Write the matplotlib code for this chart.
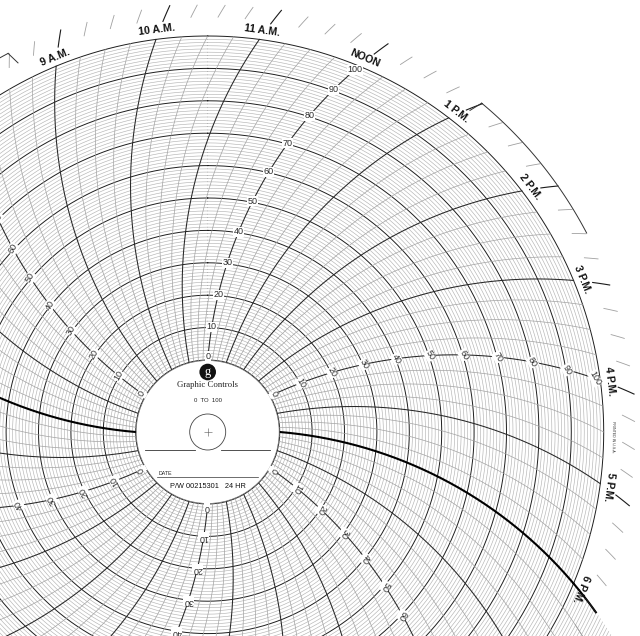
import numpy as np
import matplotlib
matplotlib.use("Agg")
import matplotlib.pyplot as plt
from matplotlib.patches import Circle

# ---------------- data ----------------
hour_names = ["MIDNIGHT", "1 A.M.", "2 A.M.", "3 A.M.", "4 A.M.", "5 A.M.",
              "6 A.M.", "7 A.M.", "8 A.M.", "9 A.M.", "10 A.M.", "11 A.M.",
              "NOON", "1 P.M.", "2 P.M.", "3 P.M.", "4 P.M.", "5 P.M.",
              "6 P.M.", "7 P.M.", "8 P.M.", "9 P.M.", "10 P.M.", "11 P.M."]
hours = list(range(24))
scale_min, scale_max = 0, 100
minor_step = 1          # ring every unit
major_step = 10         # darker ring every 10 units
value_labels = [0, 10, 20, 30, 40, 50, 60, 70, 80, 90, 100]
labelled_hours = [12, 16, 20, 0, 4, 8]   # time lines that carry the 0..100 numbers
divisions_per_hour = 4                   # 15-minute lines
heavy_hours = [6, 18]
chart_title = "Graphic Controls"
range_text = "0  TO  100"
part_text = "P/W 00215301   24 HR"

# ---------------- geometry / style ----------------
R0, R100 = 72.0, 396.0      # radius of 0 and 100 rings (pixels)
ARM2 = 864.0                # twice the pen-arm radius
LABEL_R = 405.0
DEG_PER_HOUR = 15.0


def rad(v):
    return R0 + (R100 - R0) * (v - scale_min) / (scale_max - scale_min)


def theta(r, start):
    return start + np.degrees(np.arccos(R0 / ARM2) - np.arccos(r / ARM2))


def xy(r, th):
    t = np.radians(th)
    return r * np.sin(t), r * np.cos(t)


def start_angle(hour_float):
    return (hour_float - 12) * DEG_PER_HOUR


fig = plt.figure(figsize=(6.4, 6.36), dpi=100)
ax = fig.add_axes([0, 0, 1, 1])
ax.set_xlim(-207.7, 432.3)
ax.set_ylim(-204, 432)
ax.set_aspect("equal")
ax.axis("off")

# rings
phi = np.linspace(0, 360, 1441)
for v in range(scale_min, scale_max + 1, minor_step):
    r = rad(v)
    x, y = xy(r, phi)
    if v % major_step == 0:
        ax.plot(x, y, color="#1e1e1e", lw=0.7, zorder=2)
    else:
        ax.plot(x, y, color="#b4b4b4", lw=0.45, zorder=1)

# extended grid beyond the 6 P.M. line
six_pm = start_angle(18)
for v in range(scale_max + 1, scale_max + 31, minor_step):
    r = rad(v)
    t0 = theta(r, six_pm)
    ph = np.linspace(t0, t0 + 30, 100)
    x, y = xy(r, ph)
    ax.plot(x, y, color="#b4b4b4", lw=0.45, zorder=1)

# time lines
rr = np.linspace(R0, R100, 300)
n_div = 24 * divisions_per_hour
for k in range(n_div):
    h = k / divisions_per_hour
    st = start_angle(h)
    x, y = xy(rr, theta(rr, st))
    if k % divisions_per_hour == 0:
        hh = int(h) % 24
        if hh in heavy_hours:
            ax.plot(x, y, color="#000000", lw=1.5, zorder=3)
        else:
            ax.plot(x, y, color="#262626", lw=0.75, zorder=3)
    else:
        ax.plot(x, y, color="#a2a2a2", lw=0.5, zorder=2)
    if 18 < h <= 20.5:
        re = np.linspace(R100, rad(scale_max + 30), 100)
        xe, ye = xy(re, theta(re, st))
        ax.plot(xe, ye, color="#a2a2a2", lw=0.5, zorder=2)

# heavy 6 P.M. extension
re = np.linspace(R100, 428, 50)
xe, ye = xy(re, theta(re, six_pm))
ax.plot(xe, ye, color="#000000", lw=1.5, zorder=3)

# outer ticks
for k in range(n_div):
    h = k / divisions_per_hour
    st = start_angle(h)
    if k % divisions_per_hour == 0:
        rt = np.linspace(413, 428, 10)
        col, lw = "#1a1a1a", 0.8
    else:
        rt = np.linspace(415, 427, 10)
        col, lw = "#a0a0a0", 0.6
    x, y = xy(rt, theta(rt, st))
    ax.plot(x, y, color=col, lw=lw, zorder=3)

# hour labels
for h in hours:
    th = start_angle(h) + 22.5 + 0.3
    x, y = xy(LABEL_R, th)
    ax.text(x, y, hour_names[h], rotation=-th, rotation_mode="anchor",
            ha="center", va="center", fontsize=7.6, family="Liberation Sans",
            fontweight="bold", color="#111111", zorder=6)

# value labels along labelled lines
for h in labelled_hours:
    st = start_angle(h)
    for v in value_labels:
        off = 4 if v == scale_min else (-5 if v == scale_max else 1)
        r = rad(v) + off
        x, y = xy(r, theta(r, st))
        ax.text(x, y, str(v), rotation=-st, rotation_mode="anchor",
                ha="center", va="center", fontsize=6.5, family="Liberation Sans",
                color="#2a2a2a", zorder=6,
                bbox=dict(boxstyle="square,pad=0.05", fc="white", ec="none"))

# brackets outside the ring
for a0, a1 in [(39.8, 62.3), (-27.8, -50.3)]:
    ph = np.linspace(a0, a1, 80)
    x, y = xy(428, ph)
    ax.plot(x, y, color="#333333", lw=0.7, zorder=3)
    x, y = xy(np.array([428, 415]), np.array([a0, a0 - 0.6 * np.sign(a0)]))
    ax.plot(x, y, color="#333333", lw=0.7, zorder=3)

# printed in u.s.a.
x, y = xy(405, 90.7)
ax.text(x, y, "PRINTED IN U.S.A.", rotation=-90.7, ha="center", va="center",
        fontsize=2.6, family="Liberation Sans", color="#333333")

# ---------------- centre ----------------
ax.add_patch(Circle((0, 0), R0 - 0.5, fc="white", ec="#666666", lw=0.5, zorder=5))
ax.add_patch(Circle((0, 0), 18, fc="white", ec="#444444", lw=0.6, zorder=6))
ax.plot([0], [0], marker="+", ms=6, mew=0.5, color="#777777", zorder=7)
ax.plot([-62.7, -12.7], [-18, -18], color="#333333", lw=0.6, zorder=6)
ax.plot([13.3, 62.3], [-18, -18], color="#333333", lw=0.6, zorder=6)
ax.plot([-50.7, 50.3], [-45, -45], color="#333333", lw=0.5, zorder=6)
ax.add_patch(Circle((0, 60), 8.3, fc="#111111", ec="none", zorder=6))
ax.text(0, 60.5, "g", ha="center", va="center", fontsize=9, color="white",
        family="Liberation Serif", zorder=7)
ax.text(0, 47, chart_title, ha="center", va="center", fontsize=6.3,
        family="Liberation Serif", color="#222222", zorder=7)
ax.text(0, 31, range_text, ha="center", va="center", fontsize=4.3,
        family="Liberation Sans", color="#222222", zorder=7)
ax.text(-49.5, -41.5, "DATE", ha="left", va="center", fontsize=3.8,
        family="Liberation Sans", color="#222222", zorder=7)
ax.text(0, -54, part_text, ha="center", va="center", fontsize=5.3,
        family="Liberation Sans", color="#111111", zorder=7)

fig.savefig("out.png", dpi=100, facecolor="white")
